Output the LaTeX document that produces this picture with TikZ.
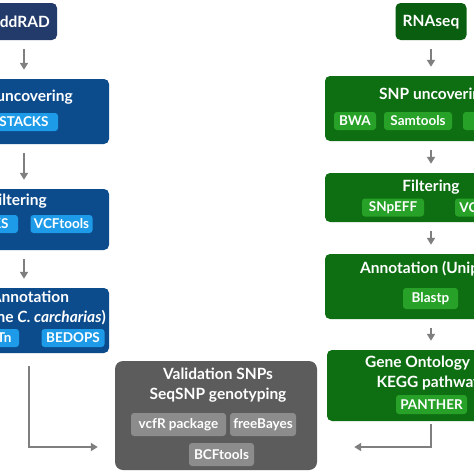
\documentclass[tikz,border=0pt]{standalone}
\usepackage{fontspec}
\setmainfont{Lato}
\usetikzlibrary{arrows.meta}

\definecolor{navy}{HTML}{233B6B}
\definecolor{bluebox}{HTML}{0C4C8D}
\definecolor{bluetag}{HTML}{1E9BE8}
\definecolor{darkgreen}{HTML}{0A5E0F}
\definecolor{greenbox}{HTML}{0E6F12}
\definecolor{greentag}{HTML}{27A127}
\definecolor{greybox}{HTML}{5C5C5C}
\definecolor{greytag}{HTML}{8C8C8C}
\definecolor{arrowgrey}{HTML}{7F7F7F}

\tikzset{
  box/.style={rounded corners=5pt, inner sep=0pt},
  title/.style={text=white, font=\fontsize{15.5}{20}\selectfont\bfseries, align=center, inner sep=0pt},
  tag/.style={rounded corners=3pt, text=white, font=\fontsize{13.5}{14}\selectfont\bfseries, minimum height=18pt, inner sep=0pt},
  arr/.style={draw=arrowgrey, line width=1.8pt, -{Triangle[width=8pt,length=7pt]}, shorten <=9pt, shorten >=9pt},
}

\begin{document}
\begin{tikzpicture}[x=1pt,y=-1pt]
        \useasboundingbox[fill=white] (0,0) rectangle (474,474);

        % left column (ddRAD)
        \node[box, fill=navy, minimum width=66pt, minimum height=37pt] (ddrad) at (24,21.5) {};
        \node[title, anchor=east] (ddradtitle) at (50,22) {ddRAD};

        \node[box, fill=bluebox, minimum width=170pt, minimum height=65pt] (lsnp) at (24,111.5) {};
        \node[title, anchor=east] (lsnptitle) at (73,97) {SNP uncovering};
        \node[tag, fill=bluetag, minimum width=68pt] (lstacks) at (24,122) {STACKS};

        \node[box, fill=bluebox, minimum width=170pt, minimum height=61pt] (lfil) at (24,219.5) {};
        \node[title, anchor=east] (lfiltitle) at (47,201) {Filtering};
        \node[tag, fill=bluetag, minimum width=68pt] (lstacksb) at (-16,224) {STACKS};
        \node[tag, fill=bluetag, minimum width=62pt] (lvcf) at (61.5,224) {VCFtools};

        \node[box, fill=bluebox, minimum width=170pt, minimum height=65pt] (lann) at (24,320.5) {};
        \node[title, anchor=east] (lanntitle) at (106,308) {Annotation\\(genome \itshape C. carcharias\upshape)};
        \node[tag, fill=bluetag, minimum width=62pt] (lblast) at (-12,338) {BLASTn};
        \node[tag, fill=bluetag, minimum width=63pt] (lbedops) at (73,338) {BEDOPS};

        % right column (RNAseq)
        \node[box, fill=darkgreen, minimum width=71pt, minimum height=37pt] (rna) at (431,21.5) {};
        \node[title] (rnatitle) at (431,22) {RNAseq};

        \node[box, fill=greenbox, minimum width=212pt, minimum height=65pt] (rsnp) at (431,108.5) {};
        \node[title, anchor=west] (rsnptitle) at (379,95) {SNP uncovering};
        \node[tag, fill=greentag, minimum width=42pt] (rbwa) at (355,121) {BWA};
        \node[tag, fill=greentag, minimum width=68pt] (rsam) at (418,121) {Samtools};
        \node[tag, fill=greentag, minimum width=64pt] (rsift) at (495,121) {SnpSift};

        \node[box, fill=greenbox, minimum width=212pt, minimum height=49pt] (rfil) at (431,197.5) {};
        \node[title] (rfiltitle) at (431,187) {Filtering};
        \node[tag, fill=greentag, minimum width=62pt] (rsnpeff) at (393,207.5) {SNpEFF};
        \node[tag, fill=greentag, minimum width=64pt] (rvcf) at (487,207.5) {VCFtools};

        \node[box, fill=greenbox, minimum width=212pt, minimum height=65pt] (rann) at (431,286.5) {};
        \node[title, anchor=west] (ranntitle) at (360,269) {Annotation (Uniprot)};
        \node[tag, fill=greentag, minimum width=55pt, minimum height=21pt] (rblastp) at (430.5,298.5) {Blastp};

        \node[box, fill=greenbox, minimum width=208pt, minimum height=71pt] (rgo) at (431,385.5) {};
        \node[title, anchor=west] (rgotitle) at (365,373) {Gene Ontology and\\KEGG pathways};
        \node[tag, fill=greentag, minimum width=71pt, minimum height=19pt] (rpanther) at (431.5,404.5) {PANTHER};

        % validation
        \node[box, fill=greybox, rounded corners=8pt, minimum width=202pt, minimum height=109pt] (val) at (216,415.5) {};
        \node[title] (valtitle) at (218,385) {Validation SNPs\\SeqSNP genotyping};
        \node[tag, fill=greytag, minimum width=95pt, minimum height=23pt] (vcfr) at (178.5,424.5) {vcfR package};
        \node[tag, fill=greytag, minimum width=66pt, minimum height=23pt] (fbayes) at (263,424.5) {freeBayes};
        \node[tag, fill=greytag, minimum width=65pt, minimum height=23pt] (bcf) at (221.5,454.5) {BCFtools};

        % arrows
        \draw[arr] (ddrad) -- (lsnp);
        \draw[arr] (lsnp) -- (lfil);
        \draw[arr] (lfil) -- (lann);
        \draw[arr] (rna) -- (rsnp);
        \draw[arr] (rsnp) -- (rfil);
        \draw[arr] (rfil) -- (rann);
        \draw[arr] (rann) -- (rgo);

        % to validation
        \draw[arr, shorten <=13pt, shorten >=17pt] ([xshift=5pt]lann.south) |- ([yshift=-31.5pt]val.west);
        \draw[arr, shorten <=3pt, shorten >=37pt] (rgo.south) |- ([yshift=-31.5pt]val.east);
\end{tikzpicture}
\end{document}
